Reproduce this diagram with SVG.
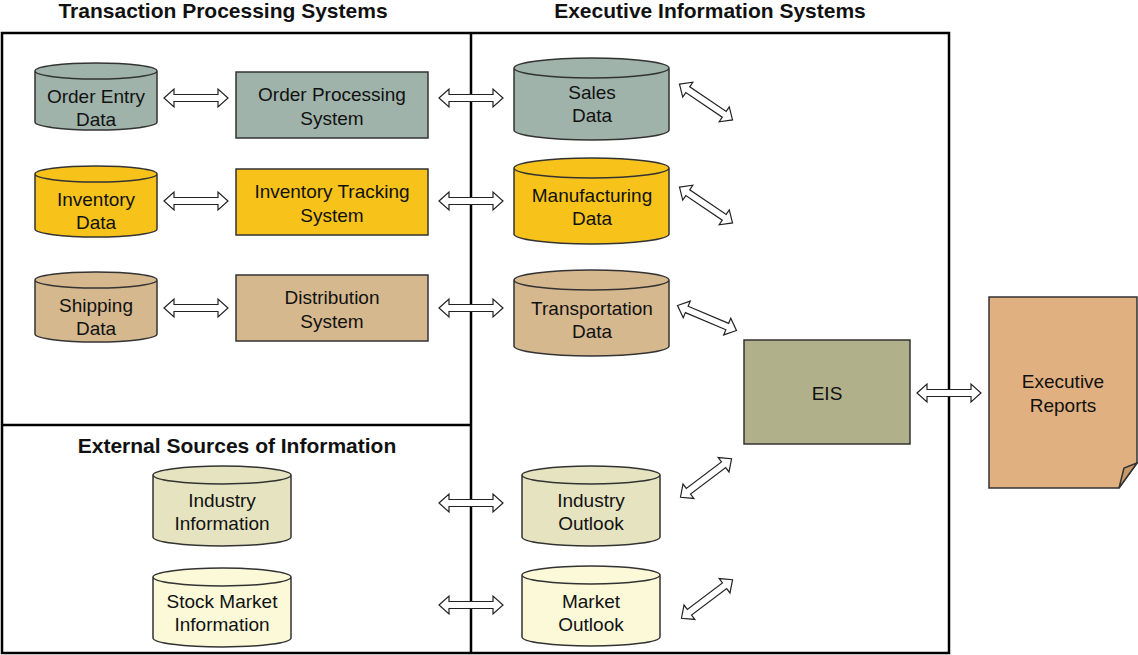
<svg xmlns="http://www.w3.org/2000/svg" width="1138" height="655" viewBox="0 0 1138 655">
<style>
text{font-family:"Liberation Sans",Arial,sans-serif;font-size:19px;fill:#111;text-anchor:middle}
.t{font-weight:bold;font-size:21px}
.n{stroke:#333;stroke-width:1.5}
.a{fill:#fff;stroke:#222;stroke-width:1.2}
.f{fill:none;stroke:#000;stroke-width:2.5}
</style>
<defs>
<path id="arr" d="M-32,0 L-22,-9 L-22,-3.5 L22,-3.5 L22,-9 L32,0 L22,9 L22,3.5 L-22,3.5 L-22,9 Z"/>
</defs>
<rect width="1138" height="655" fill="#fff"/>
<g id="frame">
<rect class="f" x="2" y="33" width="947" height="620"/>
<line class="f" x1="471" y1="33" x2="471" y2="653"/>
<line class="f" x1="2" y1="425" x2="471" y2="425"/>
<text class="t" x="223" y="18">Transaction Processing Systems</text>
<text class="t" x="710" y="18">Executive Information Systems</text>
<text class="t" x="237" y="453">External Sources of Information</text>
</g>
<g id="connectors">
<use href="#arr" class="a" transform="translate(196,98)"/>
<use href="#arr" class="a" transform="translate(196,201)"/>
<use href="#arr" class="a" transform="translate(196,308)"/>
<use href="#arr" class="a" transform="translate(471,98)"/>
<use href="#arr" class="a" transform="translate(471,201)"/>
<use href="#arr" class="a" transform="translate(471,308)"/>
<use href="#arr" class="a" transform="translate(471,503)"/>
<use href="#arr" class="a" transform="translate(471,605)"/>
<use href="#arr" class="a" transform="translate(949,393)"/>
<use href="#arr" class="a" transform="translate(706,102) rotate(34)"/>
<use href="#arr" class="a" transform="translate(706,205) rotate(34)"/>
<use href="#arr" class="a" transform="translate(707,318) rotate(23)"/>
<use href="#arr" class="a" transform="translate(706,478) rotate(-37)"/>
<use href="#arr" class="a" transform="translate(707,599) rotate(-37)"/>
</g>
<g id="orderEntry"><path class="n" fill="#9fb3aa" d="M35,71 v51 a61,8 0 0 0 122,0 v-51 a61,8 0 0 0 -122,0 a61,8 0 0 0 122,0"/><text x="96" y="103">Order Entry</text><text x="96" y="126">Data</text></g>
<g id="inventoryData"><path class="n" fill="#f7c31a" d="M35,174 v55 a61,8 0 0 0 122,0 v-55 a61,8 0 0 0 -122,0 a61,8 0 0 0 122,0"/><text x="96" y="206">Inventory</text><text x="96" y="229">Data</text></g>
<g id="shippingData"><path class="n" fill="#d6b88e" d="M35,280 v54 a61,8 0 0 0 122,0 v-54 a61,8 0 0 0 -122,0 a61,8 0 0 0 122,0"/><text x="96" y="312">Shipping</text><text x="96" y="335">Data</text></g>
<g id="orderProc"><rect class="n" fill="#9fb3aa" x="236" y="72" width="192" height="66"/><text x="332" y="101">Order Processing</text><text x="332" y="125">System</text></g>
<g id="invTrack"><rect class="n" fill="#f7c31a" x="236" y="169" width="192" height="66"/><text x="332" y="198">Inventory Tracking</text><text x="332" y="222">System</text></g>
<g id="distrib"><rect class="n" fill="#d6b88e" x="236" y="275" width="192" height="66"/><text x="332" y="304">Distribution</text><text x="332" y="328">System</text></g>
<g id="sales"><path class="n" fill="#9fb3aa" d="M514,68 v62 a77.5,10 0 0 0 155,0 v-62 a77.5,10 0 0 0 -155,0 a77.5,10 0 0 0 155,0"/><text x="592" y="99">Sales</text><text x="592" y="122">Data</text></g>
<g id="mfg"><path class="n" fill="#f7c31a" d="M514,168 v66 a77.5,10 0 0 0 155,0 v-66 a77.5,10 0 0 0 -155,0 a77.5,10 0 0 0 155,0"/><text x="592" y="202">Manufacturing</text><text x="592" y="225">Data</text></g>
<g id="transport"><path class="n" fill="#d6b88e" d="M514,280 v66 a77.5,10 0 0 0 155,0 v-66 a77.5,10 0 0 0 -155,0 a77.5,10 0 0 0 155,0"/><text x="592" y="315">Transportation</text><text x="592" y="338">Data</text></g>
<g id="indInfo"><path class="n" fill="#e6e4c0" d="M153,475 v62 a69,9 0 0 0 138,0 v-62 a69,9 0 0 0 -138,0 a69,9 0 0 0 138,0"/><text x="222" y="507">Industry</text><text x="222" y="530">Information</text></g>
<g id="stockInfo"><path class="n" fill="#fbf9d8" d="M153,577 v61 a69,9 0 0 0 138,0 v-61 a69,9 0 0 0 -138,0 a69,9 0 0 0 138,0"/><text x="222" y="608">Stock Market</text><text x="222" y="631">Information</text></g>
<g id="indOutlook"><path class="n" fill="#e6e4c0" d="M522,475 v62 a69,9 0 0 0 138,0 v-62 a69,9 0 0 0 -138,0 a69,9 0 0 0 138,0"/><text x="591" y="507">Industry</text><text x="591" y="530">Outlook</text></g>
<g id="mktOutlook"><path class="n" fill="#fbf9d8" d="M522,575 v62 a69,9 0 0 0 138,0 v-62 a69,9 0 0 0 -138,0 a69,9 0 0 0 138,0"/><text x="591" y="608">Market</text><text x="591" y="631">Outlook</text></g>
<g id="eis"><rect class="n" fill="#b0b08a" x="744" y="340" width="166" height="104"/><text x="827" y="400">EIS</text></g>
<g id="report"><path class="n" fill="#e0b080" d="M989,297 H1137 V463 L1119,488 H989 Z"/><path class="n" fill="#c89a68" d="M1137,463 L1119,488 L1124,468 Z"/><text x="1063" y="388">Executive</text><text x="1063" y="412">Reports</text></g>
</svg>
